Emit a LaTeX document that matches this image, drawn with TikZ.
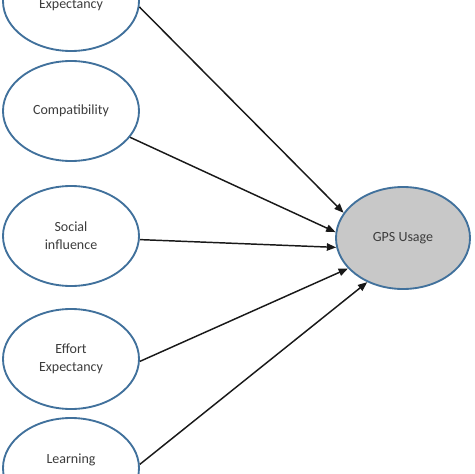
\documentclass[tikz,border=0pt]{standalone}
\usepackage{fontspec}
\setmainfont{Carlito}
\usetikzlibrary{shapes.geometric,arrows.meta}
\definecolor{rim}{RGB}{65,113,156}
\definecolor{usagefill}{RGB}{200,200,200}
\definecolor{ink}{RGB}{60,60,60}
\begin{document}
\begin{tikzpicture}[x=0.75pt,y=-0.75pt,
	factor/.style={ellipse, draw=rim, line width=1.4pt, minimum width=102pt, minimum height=75pt, inner sep=0pt, align=center, text=ink, font=\fontsize{10.5}{13.5}\selectfont},
	usage/.style={factor, fill=usagefill, minimum width=100.5pt, minimum height=76.5pt},
	link/.style={-{Triangle[length=7pt,width=5.5pt]}, line width=1.1pt, draw=black!90}]
	\useasboundingbox (0,0) rectangle (474,474);
	
	%Factors
	\node[factor] (perf) at (71,1) {\mbox{}\\Expectancy};
	\node[factor] (compat) at (71,111) {Compatibility};
	\node[factor] (social) at (71,236) {Social\\influence};
	\node[factor] (effort) at (71,359) {Effort\\Expectancy};
	\node[factor] (learn) at (71,468) {Learning\\\mbox{}};
	
	%Usage
	\node[usage] (gps) at (403,238) {GPS Usage};
	
	%Links
	\draw[link] (perf.-5) -- (gps.157);
	\draw[link] (compat.-24) -- (gps.175);
	\draw[link] (social.-3) -- (gps.188);
	\draw[link] (effort.-2) -- (gps.209);
	\draw[link] (learn.3) -- (gps.231);
\end{tikzpicture}
\end{document}
